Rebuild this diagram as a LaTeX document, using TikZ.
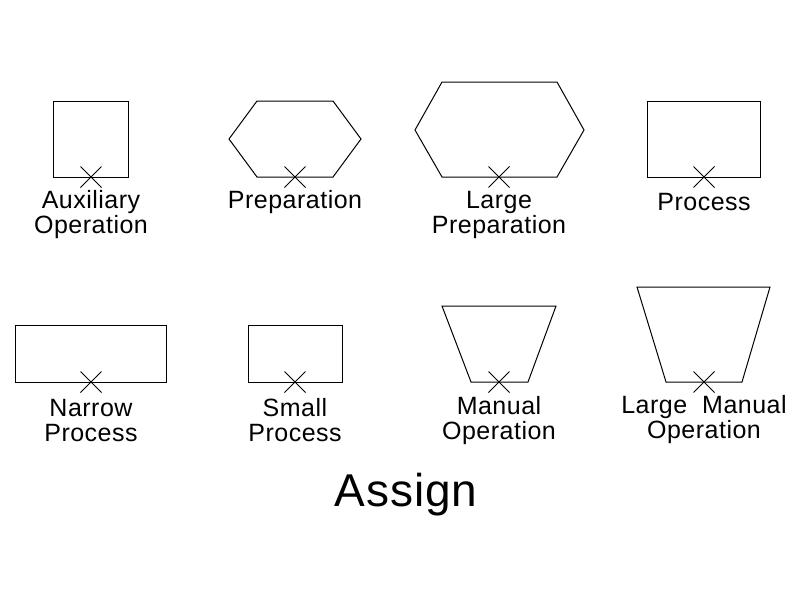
\documentclass[tikz,border=0pt]{standalone}
\usepackage{fontspec}
\setmainfont{Liberation Sans}[LetterSpace=2]
\begin{document}
\begin{tikzpicture}[x=1pt,y=-1pt,
  shp/.style={draw=black,line width=1pt,line join=miter},
  crossmark/.style={draw=black,line width=0.8pt},
  lbl/.style={anchor=base,inner sep=0pt,font=\fontsize{25}{25}\selectfont},
  ttl/.style={anchor=base,inner sep=0pt,font=\fontsize{46}{46}\selectfont}]
\useasboundingbox[fill=white] (0,0) rectangle (800,600);
% shapes row 1
\draw[shp] (53,101) rectangle (128,177);
\draw[shp] (257,101) -- (333,101) -- (361,139) -- (333,177) -- (257,177) -- (229,139) -- cycle;
\draw[shp] (442,82) -- (557,82) -- (584,130) -- (557,177) -- (442,177) -- (415,130) -- cycle;
\draw[shp] (647,101) rectangle (760,177);
% shapes row 2
\draw[shp] (15,325) rectangle (166,382);
\draw[shp] (248,325) rectangle (342,382);
\draw[shp] (442,306) -- (556,306) -- (528,382) -- (471,382) -- cycle;
\draw[shp] (637,287) -- (770,287) -- (742,382) -- (666,382) -- cycle;
% cross markers
\foreach \cx/\cy in {91/177,295/177,499/177,704/177,91/382,295/382,499/382,704/382}{
  \draw[crossmark] (\cx-10.5,\cy-10.5) -- (\cx+10.5,\cy+10.5);
  \draw[crossmark] (\cx-10.5,\cy+10.5) -- (\cx+10.5,\cy-10.5);
}
% labels
\node[lbl] (aux1) at (91,208) {Auxiliary};
\node[lbl] (aux2) at (91,233) {Operation};
\node[lbl] (prep) at (295,208) {Preparation};
\node[lbl] (lp1) at (499,208) {Large};
\node[lbl] (lp2) at (499,233) {Preparation};
\node[lbl] (proc) at (704,210) {Process};
\node[lbl] (np1) at (91,416) {Narrow};
\node[lbl] (np2) at (91,441.5) {Process};
\node[lbl] (sp1) at (295,416) {Small};
\node[lbl] (sp2) at (295,441.5) {Process};
\node[lbl] (mo1) at (499,414) {Manual};
\node[lbl] (mo2) at (499,439) {Operation};
\node[lbl] (lm1) at (704,413) {Large\hspace{0.6em}Manual};
\node[lbl] (lm2) at (704,438.5) {Operation};
\node[ttl] (title) at (406,506.5) {Assign};
\end{tikzpicture}
\end{document}
